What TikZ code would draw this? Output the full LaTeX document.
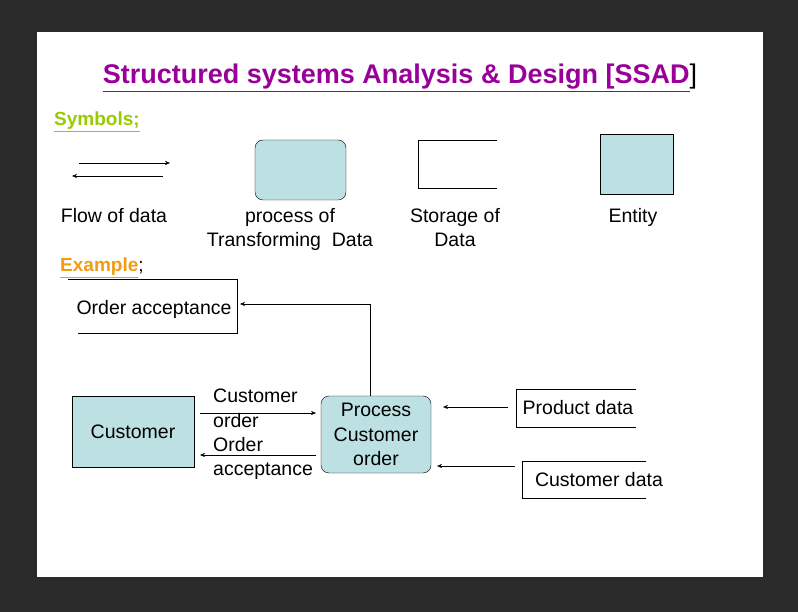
\documentclass[tikz,border=0pt]{standalone}
\usepackage{fontspec}
\setmainfont{Liberation Sans}
\usetikzlibrary{arrows.meta}
\definecolor{slidebg}{HTML}{2B2B2B}
\definecolor{boxfill}{HTML}{BDE0E3}
\definecolor{titlecol}{HTML}{990099}
\definecolor{symcol}{HTML}{99CC00}
\definecolor{excol}{HTML}{F39C12}
\begin{document}
\begin{tikzpicture}
[x=1pt,y=-1pt,
every node/.style={font=\fontsize{19.5}{24.5}\selectfont,align=center,inner sep=0pt},
entity/.style={draw,fill=boxfill,thin},
process/.style={draw,fill=boxfill,rounded corners=8pt,thin},
flow/.style={-{Stealth[length=5pt,width=4pt]},thin},
]

\useasboundingbox (0,0) rectangle (798,612);
\fill[slidebg] (0,0) rectangle (798,612);
\fill[white] (37,32) rectangle (763,577);

% headings
\node (title) at (400,78) {\fontsize{27}{30}\selectfont\textcolor{titlecol}{\bfseries\underline{Structured systems Analysis \& Design [SSAD}}]};
\node[anchor=west] (symb) at (54,122) {\fontsize{19}{22}\selectfont\bfseries\textcolor{symcol}{\underline{Symbols;}}};
\node[anchor=west] (exmp) at (60,268) {\fontsize{19}{22}\selectfont\bfseries\textcolor{excol}{\underline{Example}}\mdseries;};

% symbols
\coordinate (fa) at (79,163); \coordinate (fb) at (170,163);
\coordinate (fc) at (163,176); \coordinate (fd) at (72,176);
\draw[flow] (fa) -- (fb);
\draw[flow] (fc) -- (fd);
\node[process,minimum width=91pt,minimum height=60pt] (proc) at (300.5,170) {};
\draw (497,140) -- (418,140) -- (418,188) -- (497,188);
\node[entity,minimum width=73pt,minimum height=60pt] (ent) at (636.5,164) {};

\node[anchor=north] (lflow) at (114,208) {Flow of data};
\node[anchor=north] (lproc) at (290,208) {process of\\Transforming\ \ Data};
\node[anchor=north] (lstor) at (455,208) {Storage of\\Data};
\node[anchor=north] (lent) at (633,208) {Entity};

% example
\draw (68,279) -- (237,279) -- (237,333) -- (78,333);
\node (ordacc) at (154,309) {Order acceptance};
\node[entity,minimum width=122pt,minimum height=71pt] (cust) at (133,431.5) {Customer};
\node[process,minimum width=110pt,minimum height=77pt] (pco) at (376,434.5) {Process\\Customer\\order};
\coordinate (up) at (370,304);
\draw[flow] (pco.north -| up) -- (up) -- (240,304);

\draw[flow] (200,413) -- (316,413);
\draw[flow] (316,455) -- (200,455);
\node[anchor=north west,align=left] (lco) at (213,389) {Customer\\order};
\node[anchor=north west,align=left] (loa) at (213,437) {Order\\acceptance};

\draw (636,389) -- (516,389) -- (516,427) -- (636,427);
\node (prod) at (578,408) {Product data};
\draw (646,461) -- (522,461) -- (522,498) -- (646,498);
\node (cdat) at (599,480) {Customer data};
\draw[flow] (508,407) -- (443,407);
\draw[flow] (515,466) -- (437,466);
\end{tikzpicture}
\end{document}
